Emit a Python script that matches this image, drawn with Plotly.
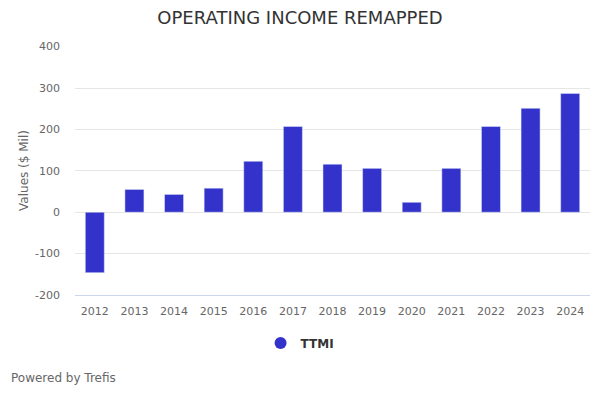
import plotly.graph_objects as go

years = ["2012", "2013", "2014", "2015", "2016", "2017", "2018", "2019", "2020", "2021", "2022", "2023", "2024"]
values = [-146, 55, 43, 58, 123, 207, 116, 106, 24, 106, 207, 251, 287]
series_name = "TTMI"
y_ticks = [-200, -100, 0, 100, 200, 300, 400]
y_tick_labels = ["-200", "-100", "0", "100", "200", "300", "400"]
bar_color = "#3333cc"

fig = go.Figure()
fig.add_trace(go.Bar(x=years, y=values, marker_color=bar_color, showlegend=False,
                     name=series_name))
fig.add_trace(go.Scatter(x=[years[0]], y=[None], mode="markers",
                         marker=dict(color=bar_color, size=11, symbol="circle"),
                         name="<b>" + series_name + "</b>", showlegend=True))

fig.update_layout(
    width=600, height=400,
    margin=dict(l=75, r=10, t=46, b=105),
    paper_bgcolor="white", plot_bgcolor="white",
    font=dict(family="DejaVu Sans", color="#666666", size=11),
    title=dict(text="OPERATING INCOME REMAPPED", x=0.5, xanchor="center", y=0.955, yanchor="middle",
               font=dict(size=18, color="#333333", family="DejaVu Sans")),
    bargap=0.52,
    showlegend=True,
    legend=dict(orientation="h", x=0.437, xanchor="center", y=-0.135, yanchor="top",
                font=dict(size=12, color="#333333"), itemsizing="constant", itemwidth=30),
    xaxis=dict(type="category", range=[-0.5, len(years) - 0.5], showgrid=False,
               showline=True, linecolor="#ccd6eb",
               ticks="", ticklabelstandoff=6, automargin=False,
               tickfont=dict(size=11, color="#666666")),
    yaxis=dict(range=[-200, 401.5], tickvals=y_ticks, ticktext=y_tick_labels,
               showgrid=True, gridcolor="#e6e6e6", automargin=False,
               zeroline=True, zerolinecolor="#e6e6e6", zerolinewidth=1,
               ticklabelstandoff=14,
               title=dict(text="Values ($ Mil)", font=dict(size=12, color="#666666"), standoff=3),
               tickfont=dict(size=11, color="#666666")),
)
fig.add_annotation(text="Powered by Trefis", xref="paper", yref="paper",
                   x=-0.1291, y=-0.335, xanchor="left", yanchor="middle", showarrow=False,
                   font=dict(size=12, color="#666666"))

fig.write_html("out.html")
